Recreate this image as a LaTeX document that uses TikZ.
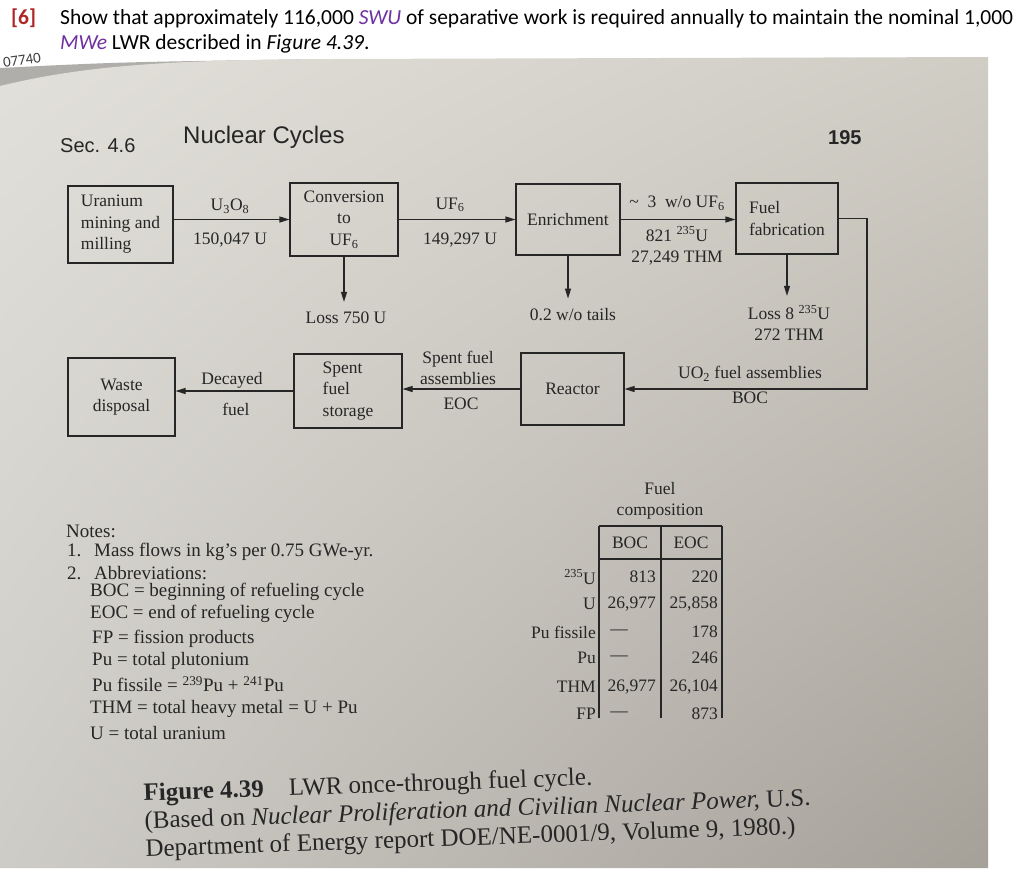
\documentclass[tikz,border=0pt]{standalone}
\usepackage{fontspec}
\setmainfont{Liberation Serif}
\newfontfamily\qfont{Carlito}
\newfontfamily\pagesans{Liberation Sans}
\usetikzlibrary{arrows.meta,shadings}
\definecolor{pageul}{RGB}{226,224,218}
\definecolor{pageur}{RGB}{208,205,197}
\definecolor{pagell}{RGB}{206,204,199}
\definecolor{pagelr}{RGB}{165,160,152}
\definecolor{curl}{RGB}{175,174,170}
\definecolor{ink}{RGB}{38,38,38}
\definecolor{qred}{RGB}{175,40,40}
\definecolor{qpurple}{RGB}{112,48,160}

\begin{document}
\begin{tikzpicture}[>={Triangle[length=10pt,width=6pt]}, x=1pt, y=-1pt,
 blk/.style={draw=ink, line width=1.1pt, inner sep=0pt, text=ink, font=\fontsize{17.5}{21.5}\selectfont},
 lbl/.style={text=ink, inner sep=1pt, font=\fontsize{17.5}{21.5}\selectfont},
 flow/.style={->, draw=ink, line width=1.1pt},
 note/.style={anchor=west, text=ink, inner sep=0pt, font=\fontsize{19}{22}\selectfont},
 figcap/.style={anchor=north west, text=ink, inner sep=0pt, align=left, rotate=2, font=\fontsize{25}{28}\selectfont}]
 \useasboundingbox (0,0) rectangle (1024,881);
 \fill[white] (0,0) rectangle (1024,881);
 \fill[curl] (0,68) .. controls (120,62) .. (330,59) -- (330,62) -- (0,86) -- cycle;
 \shade[upper left=pageul, upper right=pageur, lower left=pagell, lower right=pagelr]
  (0,86) .. controls (90,64) and (180,60) .. (330,59) -- (988,57) -- (988,868) -- (0,868) -- cycle;

 \node[anchor=base west, inner sep=0pt, text=qred, font=\qfont\bfseries\fontsize{21.5}{25}\selectfont] (qnum) at (11,24) {[6]};
 \node[anchor=base west, inner sep=0pt, font=\qfont\fontsize{21.5}{25}\selectfont] (qtext1) at (60,24)
  {Show that approximately 116,000 \textcolor{qpurple}{\itshape SWU} of separative work is required annually to maintain the nominal 1,000};
 \node[anchor=base west, inner sep=0pt, font=\qfont\fontsize{21.5}{25}\selectfont] (qtext2) at (60,49)
  {\textcolor{qpurple}{\itshape MWe} LWR described in \textit{Figure 4.39}.};
 \node[anchor=west, inner sep=0pt, rotate=8, text=darkgray, font=\qfont\fontsize{15}{16}\selectfont] (stamp) at (3,63) {07740};

 \node[anchor=west, inner sep=0pt, text=ink, font=\pagesans\fontsize{20}{24}\selectfont] (sec) at (60,146) {Sec. 4.6};
 \node[anchor=west, inner sep=0pt, text=ink, font=\pagesans\fontsize{24}{28}\selectfont] (title) at (183,137) {Nuclear Cycles};
 \node[anchor=west, inner sep=0pt, text=ink, font=\pagesans\bfseries\fontsize{20}{24}\selectfont] (pgno) at (828,138) {195};

 \node[blk, minimum width=105pt, minimum height=77pt, align=left] (mine) at (120.5,224.5) {Uranium\\mining and\\milling};
 \node[blk, minimum width=108pt, minimum height=73pt, align=center] (conv) at (344,219.5) {Conversion\\to\\UF\textsubscript{6}};
 \node[blk, minimum width=104pt, minimum height=71pt] (enr) at (568,219.5) {Enrichment};
 \node[blk, minimum width=102pt, minimum height=71pt, align=left] (fab) at (787,218.5) {Fuel\\fabrication};
 \node[blk, minimum width=103pt, minimum height=72pt] (reac) at (572.5,389) {Reactor};
 \node[blk, minimum width=108pt, minimum height=74pt, align=left] (stor) at (348,391) {Spent\\fuel\\storage};
 \node[blk, minimum width=107pt, minimum height=78pt, align=center] (waste) at (121.5,397) {Waste\\disposal};

 \draw[flow] (mine.east |- conv.west) -- (conv.west);
 \node[lbl] (u3o8) at (230,206) {U\textsubscript{3}O\textsubscript{8}};
 \node[lbl] (umine) at (230,240) {150,047 U};

 \draw[flow] (conv) -- (enr);
 \node[lbl] (uf6) at (450,205) {UF\textsubscript{6}};
 \node[lbl] (uconv) at (460,240) {149,297 U};

 \draw[flow] (enr.east) -- (fab.west |- enr.east);
 \node[lbl] (wo) at (677,203) {\textasciitilde\ \ 3\ \ w/o UF\textsubscript{6}};
 \node[lbl, align=center] (feed) at (677,246) {821 \textsuperscript{235}U\\27,249 THM};

 \node[lbl] (loss1) at (346,318) {Loss 750 U};
 \draw[flow, shorten >=9pt] (conv.south) -- (conv.south |- loss1.north);
 \node[lbl] (tails) at (573,315) {0.2 w/o tails};
 \draw[flow, shorten >=9pt] (enr.south) -- (enr.south |- tails.north);
 \node[lbl, align=center] (loss2) at (789,323) {Loss 8 \textsuperscript{235}U\\272 THM};
 \draw[flow, shorten >=8pt] (fab.south) -- (fab.south |- loss2.north);

 \coordinate (bend) at (867,218.5);
 \draw[flow] (fab.east) -- (bend) |- (reac.east);
 \node[lbl] (uo2) at (750,374) {UO\textsubscript{2} fuel assemblies};
 \node[lbl] (boc) at (750,398) {BOC};

 \draw[flow] (reac.west) -- (stor.east |- reac.west);
 \node[lbl, align=center] (spent) at (458,368) {Spent fuel\\assemblies};
 \node[lbl] (eoc) at (461,404) {EOC};

 \draw[flow] (stor.west) -- (waste.east |- stor.west);
 \node[lbl] (decay) at (232,380) {Decayed};
 \node[lbl] (decay2) at (236,409) {fuel};

 \node[lbl, align=center] (fcomp) at (660,501) {Fuel\\composition};
 \draw[ink, line width=1.1pt] (599,526) -- (722,526) (599,559) -- (722,559)
  (599,526) -- (599,718) (661,526) -- (661,718) (722,526) -- (722,718);
 \node[lbl] (hboc) at (630,543) {BOC};
 \node[lbl] (heoc) at (691,543) {EOC};

 \node[lbl, anchor=east] (r1) at (597,577) {\textsuperscript{235}U};
 \node[lbl, anchor=east] (b1) at (657,577) {813};
 \node[lbl, anchor=east] (e1) at (719,577) {220};
 \node[lbl, anchor=east] (r2) at (597,604) {U};
 \node[lbl, anchor=east] (b2) at (657,604) {26,977};
 \node[lbl, anchor=east] (e2) at (719,604) {25,858};
 \node[lbl, anchor=east] (r3) at (597,632) {Pu fissile};
 \node[lbl] (b3) at (619,632) {---};
 \node[lbl, anchor=east] (e3) at (719,632) {178};
 \node[lbl, anchor=east] (r4) at (597,658) {Pu};
 \node[lbl] (b4) at (619,658) {---};
 \node[lbl, anchor=east] (e4) at (719,658) {246};
 \node[lbl, anchor=east] (r5) at (597,687) {THM};
 \node[lbl, anchor=east] (b5) at (657,687) {26,977};
 \node[lbl, anchor=east] (e5) at (719,687) {26,104};
 \node[lbl, anchor=east] (r6) at (597,714) {FP};
 \node[lbl] (b6) at (619,714) {---};
 \node[lbl, anchor=east] (e6) at (719,714) {873};

 \node[note] (notes) at (66,531) {Notes:};
 \node[note] (n1) at (67,552) {\makebox[27pt][l]{1.}Mass flows in kg’s per 0.75 GWe-yr.};
 \node[note] (n2) at (67,573) {\makebox[27pt][l]{2.}Abbreviations:};
 \node[note] (n3) at (90,592) {BOC = beginning of refueling cycle};
 \node[note] (n4) at (90,614) {EOC = end of refueling cycle};
 \node[note] (n5) at (92,639) {FP = fission products};
 \node[note] (n6) at (92,661) {Pu = total plutonium};
 \node[note] (n7) at (92,684) {Pu fissile = \textsuperscript{239}Pu + \textsuperscript{241}Pu};
 \node[note] (n8) at (90,709) {THM = total heavy metal = U + Pu};
 \node[note] (n9) at (90,733) {U = total uranium};

 \node[figcap] (figcaption) at (143,783) {\textbf{Figure 4.39}\quad LWR once-through fuel cycle.\\
  (Based on \textit{Nuclear Proliferation and Civilian Nuclear Power,} U.S.\\
  Department of Energy report DOE/NE-0001/9, Volume 9, 1980.)};
\end{tikzpicture}
\end{document}
